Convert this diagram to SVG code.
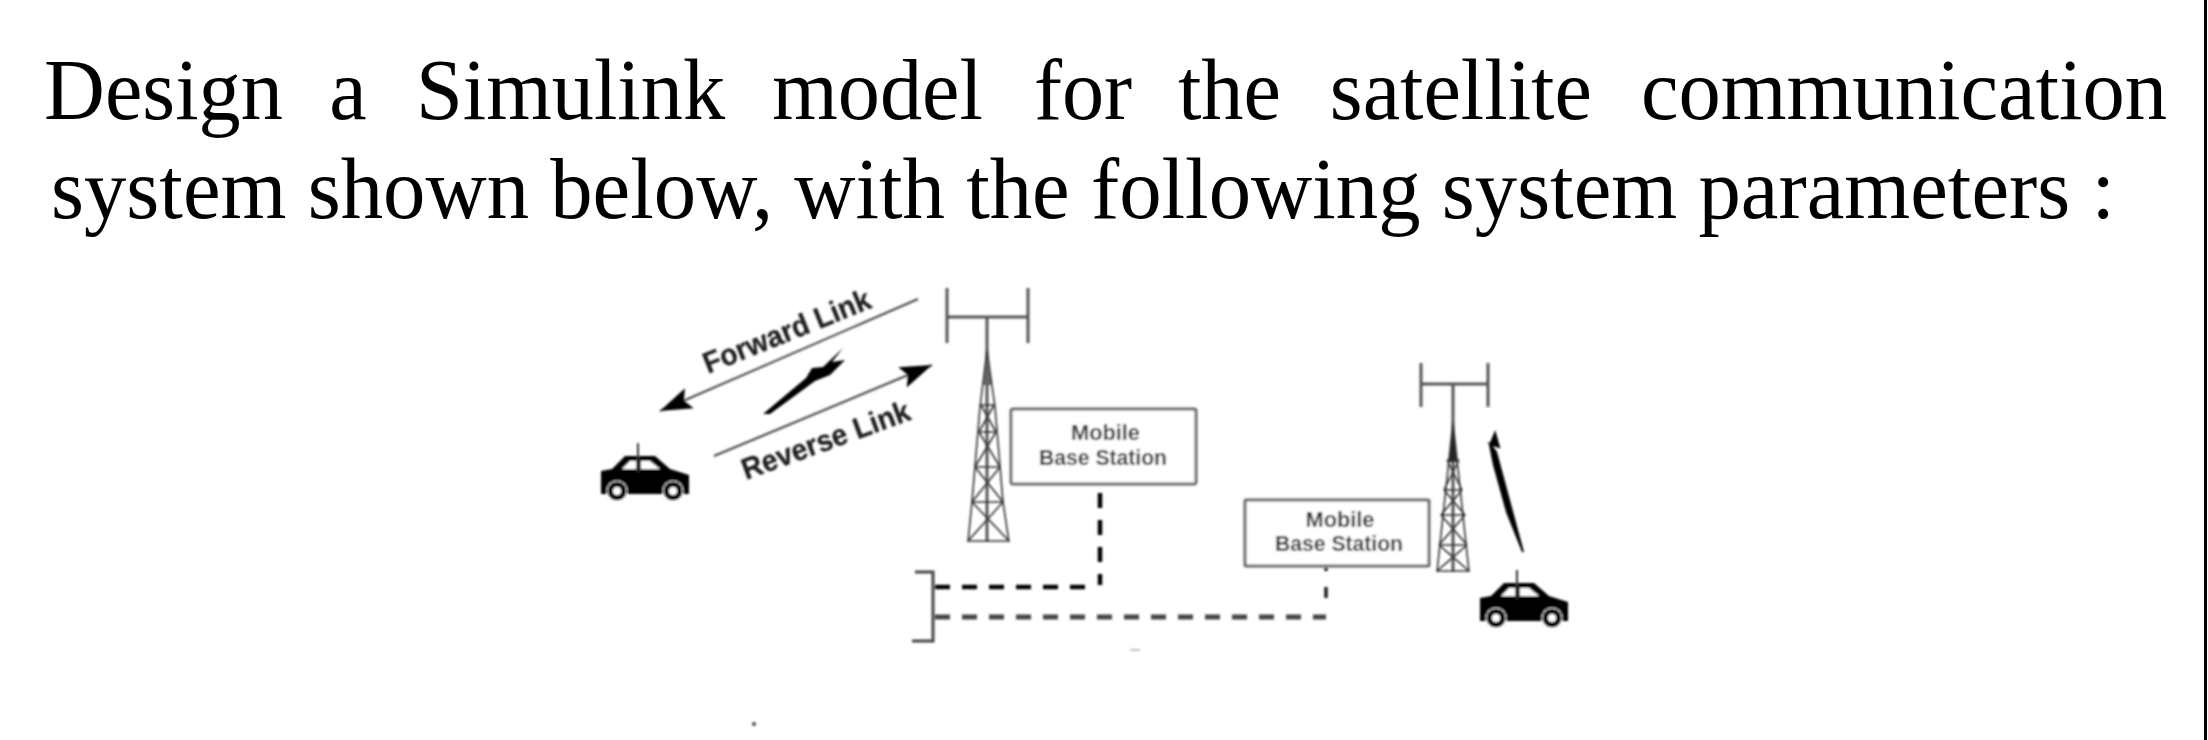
<svg xmlns="http://www.w3.org/2000/svg" width="2208" height="740" viewBox="0 0 2208 740">
<style>
.title{font-family:"Liberation Serif","Times New Roman",serif;font-size:86px;fill:#000}
.lbl{font-family:"Liberation Sans",Arial,sans-serif;fill:#1c1c1c;stroke:#1c1c1c;font-weight:bold}
.big{font-size:30px;text-anchor:start;stroke-width:.2}
.sm{font-size:22px;text-anchor:middle;fill:#333;stroke:none}
.box{fill:#fff;stroke:#6a6a6a;stroke-width:3}
.ant{fill:none;stroke:#555;stroke-width:3}
.ln{fill:none;stroke:#444;stroke-width:2}
.dash{fill:none;stroke:#000;stroke-width:4.5;stroke-dasharray:15 12}
.dashg{fill:none;stroke:#444;stroke-width:5;stroke-dasharray:15 12}
.tw{fill:none;stroke:#333;stroke-width:1.6}
</style>
<defs>
<filter id="soft" x="-5%" y="-5%" width="110%" height="110%"><feGaussianBlur stdDeviation="1"/></filter>
<marker id="ah" markerUnits="userSpaceOnUse" markerWidth="34" markerHeight="24" refX="32" refY="12" orient="auto"><path d="M0 1L32 12L0 23L6 12Z" fill="#000"/></marker>
<g id="car">
<path d="M601 471L612 469L625 456L655 456L670 469L689 475V494H601Z" fill="#000"/>
<path d="M622 469L630 461H636V469ZM641 461H650L660 469H641Z" fill="#fff"/>
<path d="M638 443V472" stroke="#333" stroke-width="2"/>
<circle cx="617" cy="491" r="10" fill="#000" stroke="#fff" stroke-width="1"/><circle cx="617" cy="491" r="4" fill="#fff"/>
<circle cx="673" cy="491" r="10" fill="#000" stroke="#fff" stroke-width="1"/><circle cx="673" cy="491" r="4" fill="#fff"/>
</g>
</defs>
<rect width="2208" height="740" fill="#fff"/>
<path d="M2205.5 0V740" stroke="#000" stroke-width="3"/>
<g id="title">
<text class="title" y="119" transform="scale(.98 1)"><tspan x="45">Design</tspan><tspan x="336">a</tspan><tspan x="424.5">Simulink</tspan><tspan x="788">model</tspan><tspan x="1055">for</tspan><tspan x="1202">the</tspan><tspan x="1357">satellite</tspan></text>
<text class="title" y="119" x="1641" textLength="526" lengthAdjust="spacingAndGlyphs">communication</text>
<text class="title" y="218" x="51" textLength="2064" lengthAdjust="spacingAndGlyphs">system shown below, with the following system parameters :</text>
</g>
<g filter="url(#soft)">
<g id="connectors">
<path class="ln" d="M918 299L660 411" marker-end="url(#ah)"/>
<path class="ln" d="M714 456L932 365" marker-end="url(#ah)"/>
<path class="dash" d="M1100 493V585"/>
<path class="dash" d="M935 587H1087"/>
<path class="dashg" d="M935 617H1326"/>
<path d="M1326 568V571M1326 587V598" fill="none" stroke="#222" stroke-width="3.5"/>
<path fill="none" stroke="#444" stroke-width="3" d="M915 572H933V641H912"/>
<path d="M1130 650H1140" stroke="#aaa" stroke-width="1.5"/>
<circle cx="754" cy="724" r="2" fill="#444"/>
</g>
<g id="bolt1"><path d="M763 414L806 378L812 368L823 367L843 348L832 362L845 360L830 375L815 381L770 414Z" fill="#000"/></g>
<g id="bolt2"><path d="M1495 433L1499 447L1490 444L1496 452L1513 515L1523 552L1507 512L1494 465L1490 445Z" fill="#000" stroke="#000" stroke-width="2"/></g>
<g id="car1"><use href="#car"/></g>
<g id="car2"><use href="#car" x="879" y="127"/></g>
<g id="tower-1">
<path class="ant" d="M947 288V343M1028 288V343M947 317H1028M987 317V542"/>
<path d="M987 352L983 385H992Z" fill="#666"/>
<path class="tw" d="M987 350L980 407L972 502L968 542M987 350L995 407L1003 502L1009 542"/>
<path class="tw" d="M968 541H1009M971 502H1004M975 467H1000M979 432H996M981 405H994"/>
<path class="tw" d="M968 541L1003 502M1009 541L972 502M972 502L1000 467M1003 502L975 467M975 467L996 432M1000 467L979 432M979 432L994 405M996 432L981 405"/>
</g>
<g id="tower-2">
<path class="ant" d="M1421 363V407M1488 363V407M1421 384H1488M1453 384V572"/>
<path d="M1453 424L1449 462H1457Z" fill="#222"/>
<path class="tw" d="M1453 422L1437 572M1453 422L1469 572"/>
<path class="tw" d="M1437 571H1469M1439 545H1467M1441 515H1465M1444 490H1462M1447 460H1459M1437 571L1467 545M1469 571L1439 545M1439 545L1465 515M1467 545L1441 515M1441 515L1462 490M1465 515L1444 490M1444 490L1459 460M1462 490L1447 460"/>
</g>
<g id="label-forward"><text class="lbl big" transform="translate(708 374) rotate(-22)" textLength="178" lengthAdjust="spacingAndGlyphs">Forward Link</text></g>
<g id="label-reverse"><text class="lbl big" transform="translate(746 480) rotate(-20)" textLength="177" lengthAdjust="spacingAndGlyphs">Reverse Link</text></g>
<g id="station1">
<rect class="box" x="1011" y="409" width="185" height="75" rx="2"/>
<text class="lbl sm" x="1105.5" y="440" textLength="69" lengthAdjust="spacingAndGlyphs">Mobile</text>
<text class="lbl sm" x="1103" y="465" textLength="128" lengthAdjust="spacingAndGlyphs">Base Station</text>
</g>
<g id="station2">
<rect class="box" x="1245" y="500" width="184" height="66" rx="1"/>
<text class="lbl sm" x="1340" y="527" textLength="69" lengthAdjust="spacingAndGlyphs">Mobile</text>
<text class="lbl sm" x="1339" y="551" textLength="128" lengthAdjust="spacingAndGlyphs">Base Station</text>
</g>
</g>
</svg>
